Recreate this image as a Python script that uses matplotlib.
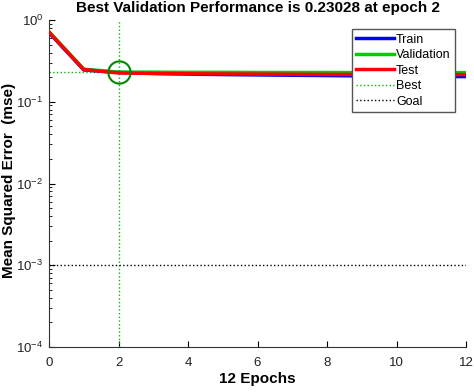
import numpy as np
import matplotlib
matplotlib.use("Agg")
import matplotlib.pyplot as plt

plt.rcParams['font.family'] = ['Liberation Sans', 'DejaVu Sans']

epochs = list(range(13))
train = [0.70, 0.245, 0.228, 0.222, 0.218, 0.215, 0.213, 0.211, 0.209, 0.207, 0.205, 0.204, 0.203]
validation = [0.72, 0.250, 0.23028, 0.230, 0.229, 0.229, 0.228, 0.228, 0.228, 0.227, 0.227, 0.227, 0.227]
test = [0.71, 0.248, 0.225, 0.222, 0.220, 0.219, 0.218, 0.217, 0.216, 0.216, 0.215, 0.215, 0.215]
best_epoch = 2
best_perf = 0.23028
goal = 1e-3

fig = plt.figure(figsize=(4.74, 3.92), dpi=100)
ax = fig.add_axes([49 / 474, 45 / 392, 417 / 474, 327 / 392])

ax.plot(epochs, train, color='#0000ff', lw=2.5, label='Train', zorder=3)
ax.plot(epochs, validation, color='#00cc00', lw=2.5, label='Validation', zorder=3)
ax.plot(epochs, test, color='#ff0000', lw=2.5, label='Test', zorder=3)
ax.plot([best_epoch, best_epoch], [1e-4, 1], color='#00bb00', ls=':', lw=1, label='Best')
ax.plot([0, best_epoch], [best_perf, best_perf], color='#00bb00', ls=':', lw=1)
ax.plot([0, 12], [goal, goal], color='black', ls=':', lw=1, label='Goal')
ax.plot([best_epoch], [best_perf], 'o', ms=16, mfc='none', mec='#008800', mew=1.5, zorder=4)

ax.set_yscale('log')
ax.set_xlim(0, 12)
ax.set_ylim(1e-4, 1)
ax.set_xticks(range(0, 13, 2))
ax.tick_params(direction='in', labelsize=9.5, length=4, labelcolor='#222222')
ax.tick_params(axis='x', pad=7)
ax.tick_params(axis='y', pad=4)
ax.tick_params(which='minor', direction='in', length=2)
ax.spines['top'].set_visible(False)
ax.spines['right'].set_visible(False)
ax.spines['left'].set_color('#333333')
ax.spines['bottom'].set_color('#333333')

ax.set_title('Best Validation Performance is 0.23028 at epoch 2', fontsize=11, fontweight='bold', pad=6)
ax.set_xlabel('12 Epochs', fontsize=11, fontweight='bold', labelpad=2)
fig.text(9 / 474, 1 - 180 / 392, 'Mean Squared Error  (mse)', rotation=90,
         ha='center', va='center', fontsize=11, fontweight='bold')

leg = ax.legend(loc='upper right', bbox_to_anchor=(0.974, 0.972), borderaxespad=0, fontsize=9,
                fancybox=False, framealpha=1, edgecolor='#555555',
                handlelength=3.0, handletextpad=0.2, borderpad=0.35, labelspacing=0.28)
leg.get_frame().set_linewidth(1)

fig.savefig('out.png', dpi=100)
